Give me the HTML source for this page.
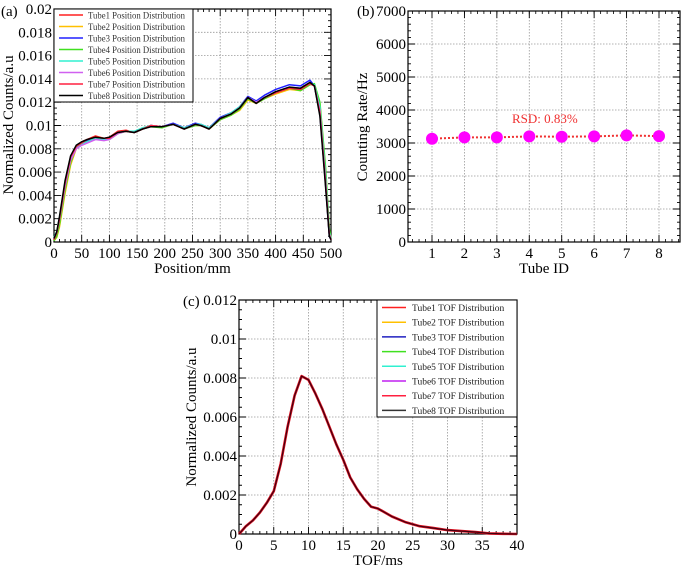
<!DOCTYPE html>
<html><head><meta charset="utf-8"><style>
html,body{margin:0;padding:0;background:#fff;}
svg{display:block;font-family:"Liberation Serif",serif;}
</style></head><body>
<svg id="fig" width="685" height="566" viewBox="0 0 685 566" xmlns="http://www.w3.org/2000/svg">
<g id="pa"></g>
<g id="pb"></g>
<g id="pc"></g>
</svg>
<script>
// ---------- Panel (a) data ----------
const posX = [0,5,10,20,30,40,50,60,75,90,100,115,130,145,160,175,195,215,235,255,265,280,300,320,335,350,365,380,400,425,445,462,470,480,490,497,500];
const tube1Pos = [0.0002,0.0007,0.0019,0.0050,0.0072,0.0082,0.0086,0.0088,0.0091,0.0089,0.0090,0.0095,0.0096,0.0094,0.0097,0.0100,0.0099,0.0101,0.0097,0.0101,0.0100,0.0097,0.0106,0.0110,0.0115,0.0124,0.0119,0.0124,0.0128,0.0132,0.0131,0.0136,0.0134,0.0112,0.0052,0.0006,0.0002];
const tube2Pos = [0.0001,0.0004,0.0013,0.0042,0.0066,0.0080,0.0085,0.0087,0.0090,0.0089,0.0089,0.0094,0.0095,0.0094,0.0097,0.0099,0.0099,0.0101,0.0098,0.0100,0.0100,0.0097,0.0105,0.0109,0.0113,0.0122,0.0119,0.0123,0.0127,0.0131,0.0130,0.0135,0.0135,0.0118,0.0062,0.0010,0.0003];
const tube3Pos = [0.0003,0.0008,0.0020,0.0051,0.0073,0.0082,0.0085,0.0087,0.0089,0.0088,0.0089,0.0094,0.0095,0.0095,0.0097,0.0100,0.0099,0.0102,0.0098,0.0102,0.0101,0.0098,0.0107,0.0111,0.0116,0.0125,0.0121,0.0126,0.0131,0.0135,0.0134,0.0139,0.0134,0.0110,0.0050,0.0005,0.0002];
const tube4Pos = [0.0001,0.0005,0.0015,0.0045,0.0068,0.0081,0.0084,0.0086,0.0089,0.0088,0.0088,0.0093,0.0095,0.0094,0.0097,0.0099,0.0098,0.0101,0.0097,0.0100,0.0100,0.0097,0.0105,0.0109,0.0114,0.0123,0.0119,0.0123,0.0128,0.0132,0.0130,0.0135,0.0136,0.0120,0.0065,0.0012,0.0003];
const tube5Pos = [0.0004,0.0009,0.0021,0.0050,0.0071,0.0081,0.0084,0.0086,0.0089,0.0088,0.0089,0.0094,0.0095,0.0095,0.0098,0.0100,0.0099,0.0101,0.0098,0.0101,0.0101,0.0098,0.0106,0.0111,0.0116,0.0124,0.0120,0.0124,0.0129,0.0133,0.0132,0.0136,0.0135,0.0116,0.0058,0.0008,0.0003];
const tube6Pos = [0.0003,0.0008,0.0019,0.0048,0.0070,0.0080,0.0083,0.0085,0.0088,0.0087,0.0088,0.0093,0.0095,0.0094,0.0097,0.0099,0.0099,0.0101,0.0097,0.0101,0.0100,0.0097,0.0106,0.0110,0.0115,0.0124,0.0120,0.0124,0.0129,0.0133,0.0132,0.0136,0.0134,0.0113,0.0054,0.0007,0.0002];
const tube7Pos = [0.0002,0.0008,0.0020,0.0051,0.0073,0.0082,0.0085,0.0088,0.0090,0.0089,0.0089,0.0094,0.0095,0.0094,0.0097,0.0100,0.0099,0.0101,0.0097,0.0101,0.0100,0.0097,0.0106,0.0110,0.0115,0.0124,0.0119,0.0124,0.0128,0.0132,0.0131,0.0136,0.0134,0.0111,0.0051,0.0006,0.0002];
const tube8Pos = [0.0003,0.0009,0.0022,0.0053,0.0074,0.0083,0.0086,0.0088,0.0090,0.0089,0.0090,0.0094,0.0095,0.0094,0.0097,0.0099,0.0099,0.0101,0.0097,0.0101,0.0100,0.0097,0.0106,0.0110,0.0115,0.0124,0.0119,0.0124,0.0129,0.0133,0.0132,0.0137,0.0134,0.0108,0.0048,0.0005,0.0002];
const posTicksY = [0,0.002,0.004,0.006,0.008,0.01,0.012,0.014,0.016,0.018,0.02];
const posTickLabelsY = ["0","0.002","0.004","0.006","0.008","0.01","0.012","0.014","0.016","0.018","0.02"];
const posTicksX = [0,50,100,150,200,250,300,350,400,450,500];
// ---------- Panel (b) data ----------
const tubeIds = [1,2,3,4,5,6,7,8];
const countRates = [3130,3170,3170,3200,3190,3200,3230,3210];
const rateTicksY = [0,1000,2000,3000,4000,5000,6000,7000];
// ---------- Panel (c) data ----------
const tofX = [0,0.5,1,2,3,4,5,6,7,8,9,10,11,12,13,14,15,16,17,18,19,20,22,24,26,28,30,32,34,36,38,40];
const tofY = [0,0.0002,0.0004,0.0007,0.0011,0.0016,0.0022,0.0036,0.0055,0.0071,0.0081,0.0079,0.0072,0.0064,0.0055,0.0046,0.0038,0.0029,0.0023,0.0018,0.0014,0.0013,0.0009,0.0006,0.0004,0.0003,0.0002,0.00015,0.0001,0.00003,0.00001,0];
const tofTicksY = [0,0.002,0.004,0.006,0.008,0.01,0.012];
const tofTickLabelsY = ["0","0.002","0.004","0.006","0.008","0.01","0.012"];
const tofTicksX = [0,5,10,15,20,25,30,35,40];

const NS="http://www.w3.org/2000/svg";
function mk(parent,tag,attrs,text){const e=document.createElementNS(NS,tag);for(const k in attrs)e.setAttribute(k,attrs[k]);if(text!==undefined)e.textContent=text;parent.appendChild(e);return e;}
function lin(d0,d1,r0,r1){return v=>r0+(v-d0)*(r1-r0)/(d1-d0);}

function frame(g,L,T,R,B,sx,sy,xt,xl,yt,yl,xminor,yminor,xLabel,fs){
  xt.forEach(v=>{const x=sx(v);if(x>L+1&&x<R-1){const l=mk(g,'line',{x1:x,x2:x,y1:T,y2:B,stroke:'#999','stroke-width':0.8,'stroke-dasharray':'1.5,1.5'});

}});
  yt.forEach(v=>{const y=sy(v);if(y>T+1&&y<B-1){const l=mk(g,'line',{x1:L,x2:R,y1:y,y2:y,stroke:'#999','stroke-width':0.8,'stroke-dasharray':'1.5,1.5'});

}});
  const fr=mk(g,'rect',{x:L,y:T,width:R-L,height:B-T,fill:'none',stroke:'#000','stroke-width':1.2});
  
  
  let p='';
  xminor.forEach(v=>{const x=sx(v);p+=`M${x},${B}v-3M${x},${T}v3`;});
  xt.forEach(v=>{const x=sx(v);p+=`M${x},${B}v-7M${x},${T}v7`;});
  yminor.forEach(v=>{const y=sy(v);p+=`M${L},${y}h3M${R},${y}h-3`;});
  yt.forEach(v=>{const y=sy(v);p+=`M${L},${y}h7M${R},${y}h-7`;});
  const tk=mk(g,'path',{d:p,stroke:'#000','stroke-width':0.9,fill:'none'});
  
  
  xt.forEach((v,i)=>{const t=mk(g,'text',{x:sx(v),y:B+16,'text-anchor':'middle','font-size':fs},xl[i]);

});
  yt.forEach((v,i)=>{const t=mk(g,'text',{x:L-2,y:sy(v)+5,'text-anchor':'end','font-size':fs},yl[i]);

});
  const xa=mk(g,'text',{x:(L+R)/2,y:B+31,'text-anchor':'middle','font-size':15},xLabel);
  
  
}
function path(pts){return pts.map((p,i)=>(i?'L':'M')+p[0].toFixed(1)+','+p[1].toFixed(1)).join('');}
function range(a,b,s){const r=[];for(let v=a;v<=b+1e-9;v+=s)r.push(+v.toFixed(6));return r;}

// ===== Panel A =====
(function(){
  const g=document.getElementById('pa');
  const L=54,R=331,T=9,B=242;
  const sx=lin(0,500,L,R), sy=lin(0,0.02,B,T);
  frame(g,L,T,R,B,sx,sy,posTicksX,posTicksX.map(String),posTicksY,posTickLabelsY,range(0,500,10),range(0,0.02,0.0005),'Position/mm',15);
  const yt=mk(g,'text',{x:13,y:125,'text-anchor':'middle','font-size':15,transform:'rotate(-90 13 125)'},'Normalized Counts/a.u');
  
  
  const pl=mk(g,'text',{x:1,y:16,'font-size':15},'(a)');
  
  
  const series=[tube1Pos,tube2Pos,tube3Pos,tube4Pos,tube5Pos,tube6Pos,tube7Pos,tube8Pos];
  const cols=['#ff2020','#ffc000','#2020ff','#40e020','#30f0d0','#d060f0','#ff2040','#000'];
  series.forEach((s,i)=>{
    const l=mk(g,'path',{d:path(posX.map((x,j)=>[sx(x),sy(s[j])])),fill:'none',stroke:cols[i],'stroke-width':1.5,'stroke-linejoin':'round'});
    
    
  });
  const lg=mk(g,'g',{});
  
  
  mk(lg,'rect',{x:L,y:T,width:139,height:93,fill:'#fff',stroke:'#000','stroke-width':1});
  series.forEach((s,i)=>{
    const y=15+i*11.5;
    const e=mk(lg,'g',{});
    
    
    mk(e,'line',{x1:59,x2:83,y1:y,y2:y,stroke:cols[i],'stroke-width':1.5});
    mk(e,'text',{x:88,y:y+3.5,'font-size':9,fill:'#333',textLength:97,lengthAdjust:'spacingAndGlyphs'},'Tube'+(i+1)+' Position Distribution');
  });
})();

// ===== Panel B =====
(function(){
  const g=document.getElementById('pb');
  const L=408,R=680,T=11,B=242;
  const sx=lin(1,8,432,659), sy=lin(0,7000,B,T);
  frame(g,L,T,R,B,sx,sy,tubeIds,tubeIds.map(String),rateTicksY,rateTicksY.map(String),[],range(0,7000,200),'Tube ID',15);
  let p='';range(0.4,8.6,0.2).forEach(v=>{const x=sx(v);if(x>L&&x<R)p+=`M${x},${B}v-3M${x},${T}v3`;});
  const mt=mk(g,'path',{d:p,stroke:'#000','stroke-width':0.8});
  
  
  const yt=mk(g,'text',{x:367,y:127,'text-anchor':'middle','font-size':15,transform:'rotate(-90 367 127)'},'Counting Rate/Hz');
  
  
  const pl=mk(g,'text',{x:357,y:16,'font-size':15},'(b)');
  
  
  const ln=mk(g,'path',{d:path(tubeIds.map((x,i)=>[sx(x),sy(countRates[i])])),fill:'none',stroke:'#f03030','stroke-width':2,'stroke-dasharray':'2,2'});
  
  
  tubeIds.forEach((x,i)=>{
    const c=mk(g,'circle',{cx:sx(x),cy:sy(countRates[i]),r:6,fill:'#ff00ff'});
    
    
  });
  const rsd=mk(g,'text',{x:512,y:123,'font-size':13,fill:'#f03030'},'RSD: 0.83%');
  
  
})();

// ===== Panel C =====
(function(){
  const g=document.getElementById('pc');
  const L=239,R=517,T=300,B=534;
  const sx=lin(0,40,L,R), sy=lin(0,0.012,B,T);
  frame(g,L,T,R,B,sx,sy,tofTicksX,tofTicksX.map(String),tofTicksY,tofTickLabelsY,range(0,40,1),range(0,0.012,0.0005),'TOF/ms',15);
  const yt=mk(g,'text',{x:196,y:417,'text-anchor':'middle','font-size':15,transform:'rotate(-90 196 417)'},'Normalized Counts/a.u');
  
  
  const pl=mk(g,'text',{x:183,y:306,'font-size':15},'(c)');
  
  
  const cols=['#ff2020','#ffc000','#2020c0','#40e020','#30f0d0','#c020f0','#ff2040','#333'];
  const d=path(tofX.map((x,i)=>[sx(x),sy(tofY[i])]));
  const c1=mk(g,'path',{d:d,fill:'none',stroke:'#e01020','stroke-width':2.6,'stroke-linejoin':'round'});
  
  
  const c2=mk(g,'path',{d:d,fill:'none',stroke:'#400010','stroke-width':1.2,'stroke-linejoin':'round'});
  
  
  const lg=mk(g,'g',{});
  
  
  mk(lg,'rect',{x:377,y:T,width:140,height:117,fill:'#fff',stroke:'#000','stroke-width':1});
  cols.forEach((c,i)=>{
    const y=307.5+i*14.7;
    const e=mk(lg,'g',{});
    
    
    mk(e,'line',{x1:382,x2:406,y1:y,y2:y,stroke:c,'stroke-width':1.5});
    mk(e,'text',{x:412,y:y+3.5,'font-size':9.5,fill:'#222'},'Tube'+(i+1)+' TOF Distribution');
  });
})();
</script>
</body></html>
